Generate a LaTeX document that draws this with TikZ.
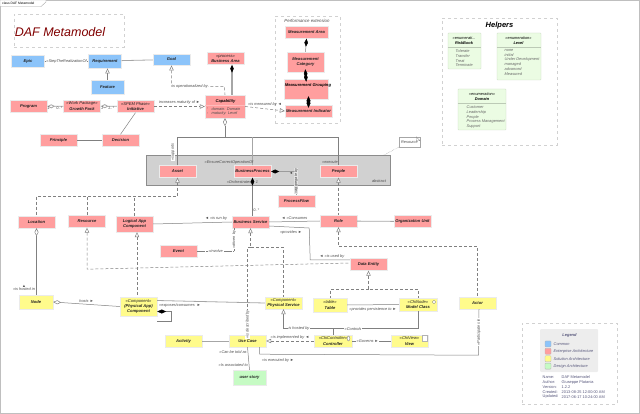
\documentclass[tikz,border=0pt]{standalone}
\usepackage{fontspec}
\setmainfont{Liberation Sans}
\usetikzlibrary{arrows.meta,positioning,shapes.geometric}
\definecolor{pinkbox}{HTML}{FF9E9E}
\definecolor{yellowbox}{HTML}{FFFB8C}
\definecolor{bluebox}{HTML}{8CC4FA}
\definecolor{greenbox}{HTML}{C6FBC4}
\definecolor{enumbox}{HTML}{EBFCE3}
\definecolor{linegray}{HTML}{808080}
\definecolor{legendtxt}{HTML}{55557A}
\newcommand{\st}[1]{{\mdseries\itshape «#1»}}
\begin{document}
\begin{tikzpicture}[x=1pt,y=-1pt,
  txt/.style={font=\fontsize{4.1}{5.1}\selectfont},
  cls/.style={txt,font=\fontsize{4.1}{5.1}\selectfont\bfseries\itshape,text=black!88,align=center,inner sep=0pt,draw=black!8,line width=.4pt,minimum width=37pt,minimum height=12pt},
  pink/.style={cls,fill=pinkbox},
  yellow/.style={cls,fill=yellowbox},
  blue/.style={cls,fill=bluebox},
  green/.style={cls,fill=greenbox},
  lbl/.style={txt,font=\fontsize{3.9}{4.6}\selectfont\itshape,text=black!70,inner sep=.5pt},
  enum/.style={txt,fill=enumbox,draw=enumbox!85!black,line width=.3pt,inner sep=0pt,rounded corners=.6pt},
  enumtxt/.style={txt,font=\fontsize{3.9}{4.8}\selectfont\itshape,text=black!60,align=left,inner sep=0pt,anchor=north west},
  dashbox/.style={draw=black!18,dashed,line width=.5pt},
  conn/.style={draw=linegray,line width=.5pt},
  conn2/.style={draw=black!35,line width=.8pt},
  real/.style={conn,densely dashed,{Triangle[open,fill=white,length=5pt,width=4.5pt]}-},
  impl/.style={conn,{Triangle[open,fill=white,length=5pt,width=4.5pt]}-},
  comp/.style={conn,{Diamond[length=8pt,width=3.6pt,black]}-},
  aggr/.style={conn,{Diamond[open,fill=white,length=8pt,width=4pt]}-}]
\useasboundingbox (0,0) rectangle (640,414);
\draw[black!25,line width=1pt] (.5,.5) rectangle (639,413);
\draw[black!35,line width=.4pt,fill=white] (0,0) -- (46,0) -- (46,2) -- (41,6.5) -- (0,6.5) -- cycle;
\node[txt,font=\fontsize{3.3}{4}\selectfont,anchor=west,inner sep=0pt] (tab) at (2,3.3) {class DAF Metamodel};

% title and extensions
\node[dashbox,minimum width=110pt,minimum height=33pt,inner sep=0pt] (titlebox) at (69,30.5) {};
\node[font=\fontsize{12.5}{14}\selectfont\itshape,text=red!50!black,inner sep=0pt] (title) at (60,32.5) {DAF Metamodel};
\node[dashbox,minimum width=65pt,minimum height=107pt,inner sep=0pt] (perfbox) at (307.5,69.5) {};
\node[lbl,font=\fontsize{4.4}{5}\selectfont\itshape] (perftitle) at (307,21) {Performance extension};
\node[dashbox,minimum width=115pt,minimum height=127pt,inner sep=0pt] (helpbox) at (499.5,81.5) {};
\node[font=\fontsize{7.5}{9}\selectfont\bfseries\itshape,inner sep=0pt] (helptitle) at (499.5,26) {Helpers};
\node[dashbox,minimum width=95pt,minimum height=81pt,inner sep=0pt] (legendbox) at (569.5,363.5) {};

% abstract group
\node[fill=black!18,draw=black!45,line width=.5pt,minimum width=244pt,minimum height=30pt,inner sep=0pt] (group) at (268,170) {};
\node[lbl] (abstract) at (379,181.5) {abstract};

% common
\node[blue,minimum width=33pt] (epic) at (28,61) {Epic};
\node[blue,minimum width=33pt,minimum height=14.5pt] (requirement) at (105,61) {Requirement};
\node[blue,minimum height=11.5pt] (goal) at (171.5,59.5) {Goal};
\node[blue,minimum width=33pt,minimum height=14.5pt] (feature) at (107.5,87) {Feature};

% enterprise architecture
\node[pink] (program) at (28.5,106.5) {Program};
\node[pink] (growth) at (82,106) {\st{Work Package}\\Growth Pack};
\node[pink] (initiative) at (135.5,106.5) {\st{SPEM Phase}\\Initiative};
\node[pink] (principle) at (58.5,140.5) {Principle};
\node[pink] (decision) at (120.5,140.5) {Decision};
\node[pink,minimum height=12pt] (bizarea) at (225.5,58.5) {\st{process}\\Business Area};
\node[pink,minimum width=40pt,minimum height=23pt] (capability) at (225,106.5) {};
\node[txt,font=\fontsize{4.1}{5.1}\selectfont\bfseries\itshape,inner sep=0pt] (capname) at (225.5,101) {Capability};
\draw[pinkbox!70!white,line width=.4pt] (capability.west |- 0,105.5) -- (capability.east |- 0,105.5);
\node[lbl,align=left] (capattr) at (226,111.5) {domain: Domain\\maturity: Level};
\node[lbl] (capdash) at (207.5,111.5) {\shortstack{-\\-}};
\node[pink,minimum width=43pt] (marea) at (306.5,32.5) {Measurement Area};
\node[pink,minimum height=20pt] (mcat) at (305.5,62) {Measurement\\Category};
\node[pink,minimum width=44pt,minimum height=20pt] (mgroup) at (306,89) {};
\node[txt,font=\fontsize{4.1}{5.1}\selectfont\bfseries\itshape,inner sep=0pt] (mgrouptxt) at (308,85) {Measurement Grouping};
\node[pink,minimum width=47pt] (mind) at (308.5,111) {Measurement Indicator};
\node[pink] (asset) at (177.5,171.5) {Asset};
\node[pink] (process) at (252.5,171.5) {BusinessProcess};
\node[pink] (people) at (338.5,171.5) {People};
\node[pink] (flow) at (296.5,201) {ProcessFlow};
\node[pink] (location) at (36.5,222) {Location};
\node[pink] (resource) at (87,221.5) {Resource};
\node[pink,minimum height=16pt] (logical) at (134.5,224) {Logical App\\Component};
\node[pink] (event) at (178.5,251.5) {Event};
\node[pink] (service) at (250.5,222) {Business Service};
\node[pink] (role) at (338.5,221) {Role};
\node[pink] (orgunit) at (412.5,221.5) {Organization Unit};
\node[pink] (entity) at (368.5,264.5) {Data Entity};

% solution architecture
\node[yellow,minimum width=34pt,minimum height=14pt] (node) at (36,302) {Node};
\node[yellow,minimum height=19pt] (physapp) at (138.5,306.5) {\st{Component}\\(Physical App)\\Component};
\node[yellow] (physservice) at (283.5,303) {\st{Component}\\Physical Service};
\node[yellow,minimum width=34pt,minimum height=14pt] (table) at (330,305) {\st{table}\\Table};
\node[yellow,minimum width=38pt,minimum height=13pt] (model) at (418,304.5) {\st{ChiNode}\\Model Class};
\node[yellow] (actor) at (477.5,303) {Actor};
\node[yellow] (activity) at (183.5,341) {Activity};
\node[yellow] (usecase) at (247.5,341) {Use Case};
\node[yellow,minimum width=38pt] (controller) at (333,341) {\st{ChiController}\\Controller};
\node[yellow] (view) at (409.5,341) {\st{ChiView}\\View};
\node[green,minimum width=33pt,minimum height=15pt] (story) at (249.5,377.5) {user story};
\node[circle,draw=black!60,fill=white,minimum size=3.5pt,inner sep=0pt,line width=.3pt] (modelicon) at (434,302) {};
\node[ellipse,draw=black!60,fill=white,minimum width=2.8pt,minimum height=5pt,inner sep=0pt,line width=.3pt] (ctrlicon) at (348.5,338.5) {};
\node[draw=black!30,fill=white,minimum width=5pt,minimum height=6pt,inner sep=0pt,line width=.3pt] (viewicon) at (425,338.5) {};

% helpers
\node[enum,minimum width=33pt,minimum height=36pt] (risk) at (464.5,51) {};
\node[txt,font=\fontsize{3.9}{4.8}\selectfont\itshape,align=center,inner sep=0pt] (risktitle) at (464,41) {«enumerati...\\\textbf{RiskBook}};
\draw[enumbox!80!black,line width=.3pt] (risk.west |- 0,47.5) -- (risk.east |- 0,47.5);
\node[enumtxt] (riskitems) at (455.5,49.5) {Tolerate\\Transfer\\Treat\\Terminate};
\node[enum,minimum width=44pt,minimum height=47pt] (level) at (519,56.5) {};
\node[txt,font=\fontsize{3.9}{4.8}\selectfont\itshape,align=center,inner sep=0pt] (leveltitle) at (518.5,41) {«enumeration»\\\textbf{Level}};
\draw[enumbox!80!black,line width=.3pt] (level.west |- 0,47.5) -- (level.east |- 0,47.5);
\node[enumtxt] (levelitems) at (504.5,49) {none\\initial\\Under Development\\managed\\advanced\\Measured};
\node[enum,minimum width=48pt,minimum height=41pt] (domain) at (482,109.5) {};
\node[txt,font=\fontsize{3.9}{4.8}\selectfont\itshape,align=center,inner sep=0pt] (domaintitle) at (482,97) {«enumeration»\\\textbf{Domain}};
\draw[enumbox!80!black,line width=.3pt] (domain.west |- 0,103.5) -- (domain.east |- 0,103.5);
\node[enumtxt] (domainitems) at (466.5,105.5) {Customer\\Leadership\\People\\Process Management\\Support};

% note
\node[draw=black!35,fill=white,line width=.3pt,minimum width=21pt,minimum height=10pt,inner sep=0pt,lbl] (note) at (409.5,142) {Resource};
\draw[black!45,line width=.3pt,fill=white] (note.north east) ++(-4,0) -- ++(4,4) -- ++(-4,0) -- cycle;
\draw[densely dotted,black!50,line width=.4pt] (note.south west) -- (383,155.5);

% connectors top
\draw[conn2] (requirement) -- (goal);
\draw[conn] (epic) -- (requirement) node[lbl,midway,fill=white] (lepic) {«StepTheRealizationOf};
\draw[impl] (requirement.south -| feature) -- (feature);
\draw[real] (goal.south) -- ++(0,21) -- ++(53,0) -- (capability.north);
\node[lbl,fill=white] (lgoal) at (190,86) {is operationalized by};
\draw[conn2,{Diamond[open,fill=white,length=8pt,width=4pt]}-] (program) -- (growth) node[lbl,pos=.1,below] (lp1) {1} node[lbl,pos=.75,below] (lp2) {0..*};
\draw[conn2,{Diamond[open,fill=white,length=8pt,width=4pt]}-] (growth) -- (initiative) node[lbl,pos=.1,below] (lg1) {1} node[lbl,pos=.65,below] (lg2) {1..*};
\draw[conn,densely dashed,-{Triangle[open,fill=white,length=5pt,width=4.5pt]}] (initiative) -- (capability) node[lbl,midway,above=1pt] (linit) {increases maturity of ►};
\draw[conn] (initiative.south) -- (decision.north);
\draw[conn] (decision) -- (principle);
\draw[conn2,line width=1.5pt,{Diamond[length=8pt,width=3.6pt,line width=0pt,black]}-] (bizarea.south -| 232,0) -- (capability.north -| 232,0);
\draw[conn,densely dashed,-{Triangle[open,fill=white,length=5pt,width=4.5pt]}] (capability.east) -- (mind.west) node[lbl,midway,above=1.5pt] (lmeas) {«is measured by ◄};
\draw[comp] (marea.south) -- (mcat.north);
\draw[comp,{Diamond[length=9pt,width=3.6pt,black]}-{Diamond[length=9pt,width=3.6pt,black]},shorten <=-3pt,shorten >=-3pt] (mcat.south) -- (mgroup.north);
\draw[comp,{Diamond[length=9pt,width=4pt,black]}-{Diamond[length=9pt,width=4pt,black]},shorten <=-3pt,shorten >=-3pt] (mgroup.south -| mind) -- (mind.north);

% capability to the group
\draw[conn,{Diamond[open,fill=white,length=8pt,width=4pt]}-] (capability.south) -- ++(0,19) coordinate (capjoin);
\draw[conn] (asset.north) -- (asset.north |- capjoin) -- (people.north |- capjoin) -- (people.north);
\draw[conn2] (process.north) -- (process.north |- capjoin);
\node[lbl,rotate=90,fill=white] (lasset) at (173,152) {«supports};
\node[lbl] (lensure) at (229,162) {«EnsureCorrectOperationOf};
\node[lbl] (lexec) at (330,162.5) {«execute};

% inside the group
\draw[comp,{Diamond[length=8pt,width=4pt,black]}-] (process.east) -- ++(25,0) -- (flow.north);
\node[lbl,rotate=90,fill=black!10] (lflow) at (296,181) {«aggregate by};
\node[lbl] (lflowa) at (291,173.5) {◄};
\draw[comp] (process.south) -- (service.north -| process.south) node[lbl,pos=.85,right] (lserv) {0..*};
\node[lbl] (lorch) at (239,182) {«Orchestrates};
\node[lbl] (lorch1) at (257,182) {1};

% realizations from the group
\draw[real] (asset.south) -- ++(0,18.5) coordinate (assetjoin) -- (assetjoin -| location) -- (location.north);
\draw[densely dashed,conn] (resource.north) -- (resource.north |- assetjoin);
\draw[densely dashed,conn] (logical.north) -- (logical.north |- assetjoin);
\draw[real] (people.south) -- (role.north);

% middle row
\draw[conn] (logical.east) -- (service.west) node[lbl,pos=.8,above=1pt] (lrun) {◄ «is run by};
\draw[conn] (service.east) -- (role.west) node[lbl,midway,above=1pt] (lcons) {◄ «Consumes};
\draw[conn2] (role) -- (orgunit);
\draw[conn] ([yshift=-4pt]service.east) -- ++(40,2) -- ++(1,32) -- (entity.west |- 0,260) node[lbl,pos=.55,above=1pt] (lused) {◄ «is used by};
\node[lbl] (lprov) at (291,232) {«provides ►};
\draw[aggr] (location.south) -- (location.south |- node.north);
\node[lbl,align=center] (lhost) at (24,288) {▲\\[-1pt]«is hosted in};
\draw[real] (resource.south) -- ++(0,41.5) -- (entity.west |- 0,263);
\draw[real] (logical.south -| 137,0) -- (physapp.north -| 137,0);
\draw[conn,dash pattern=on 8pt off 1pt] (event.east) -- ++(37,0) coordinate (evturn) node[lbl,midway,fill=white] (levent) {«involve};
\draw[conn,densely dashed] (evturn) -- (service.south -| evturn) node[lbl,midway,rotate=90,fill=white] (ldriven) {«driven by};

% realizations below the service
\draw[real] (service.south) -- ++(0,19) coordinate (servjoin) -- (servjoin -| physservice) -- (physservice.north);
\draw[conn,densely dashed] (servjoin) -- (usecase.north |- servjoin) -- (usecase.north) node[lbl,pos=.88,rotate=90,fill=white] (ldescr) {«is described by};
\draw[real] (entity.south) -- ++(0,18.5) coordinate (entjoin) -- (entjoin -| model) -- (model.north);
\draw[conn,densely dashed] (entjoin) -- (entjoin -| table) -- (table.north);
\draw[real] (role.south) -- ++(0,19) -- ++(139,0) -- (actor.north);

% bottom rows
\draw[aggr] (node.east) -- (physapp.west) node[lbl,midway,above=1pt] (lhosts) {hosts ►};
\draw[conn2] ([yshift=6pt]physapp.east) -- (physservice.west);
\node[lbl] (lexpose) at (180,305.5) {«exposes/consumes \ ►};
\draw[comp,{Diamond[length=9pt,width=4pt,black]}-] ([yshift=-5pt]physapp.east) -- ++(14,0) -- ++(0,10) -- ++(-14,0);
\draw[conn] (table.east) -- (model.west) node[lbl,midway,below=2.5pt] (lpers) {«provides persistence to ►};
\draw[impl] (physservice.south) -- ++(0,19) coordinate (hostjoin) -- (hostjoin -| controller) -- (controller.north);
\node[lbl,fill=white] (lhosted) at (299,328) {is hosted by};
\draw[conn] (hostjoin -| controller) -- ++(85,0) -- (model.south);
\node[lbl,fill=white] (lctrl) at (353,329) {«Controls};
\draw[real] (usecase.east) -- (controller.west) node[lbl,midway,above=.5pt] (limpl) {«is implemented by ◄};
\draw[conn] (controller.east) -- (view.west) node[lbl,pos=.4,fill=white] (lgov) {«Governs ►};
\draw[conn2] (activity) -- (usecase);
\draw[conn] (usecase.south) -- (story.north) node[lbl,pos=.2,left=.5pt] (ltold) {«Can be told as} node[lbl,pos=.8,left=.5pt] (lassoc) {«Is associated to};
\draw[conn] ([xshift=12pt]usecase.south) -- ++(0,7) -- ++(219,1) -- ([xshift=1.5pt]actor.south) node[lbl,pos=.5,rotate=90,fill=white] (lpart) {«Participates in};
\node[lbl] (lexec2) at (278,360) {«is executed by ►};

% legend
\node[fill=black!7,rounded corners=1pt,minimum width=58pt,minimum height=43pt,inner sep=0pt] (legendpanel) at (569,350.5) {};
\node[lbl,font=\fontsize{4}{5}\selectfont\bfseries\itshape,text=legendtxt] (legendtitle) at (569.5,335) {Legend};
\foreach \col/\name/\txt [count=\i] in {bluebox/lcommon/Common,pinkbox/lent/Enterprise Architecture,yellowbox/lsol/Solution Architecture,greenbox/ldes/Design Architecture}{
  \node[fill=\col,draw=black!30,line width=.3pt,rounded corners=.8pt,minimum size=6pt,inner sep=0pt] (\name) at (548,{336.5+\i*7.4}) {};
  \node[lbl,anchor=west,text=legendtxt] (\name txt) at (553,{336.5+\i*7.4}) {\txt};
}
\node[lbl,anchor=north west,align=left,text=legendtxt,font=\fontsize{3.9}{4.9}\selectfont] (legendkeys) at (542,375) {Name:\\Author:\\Version:\\Created:\\Updated:};
\node[lbl,anchor=north west,align=left,text=legendtxt,font=\fontsize{3.9}{4.9}\selectfont] (legendvals) at (561,375) {DAF Metamodel\\Giuseppe Platania\\1.2.2\\2013-08-25 12:00:00 AM\\2017-06-17 10:24:00 AM};
\end{tikzpicture}
\end{document}
